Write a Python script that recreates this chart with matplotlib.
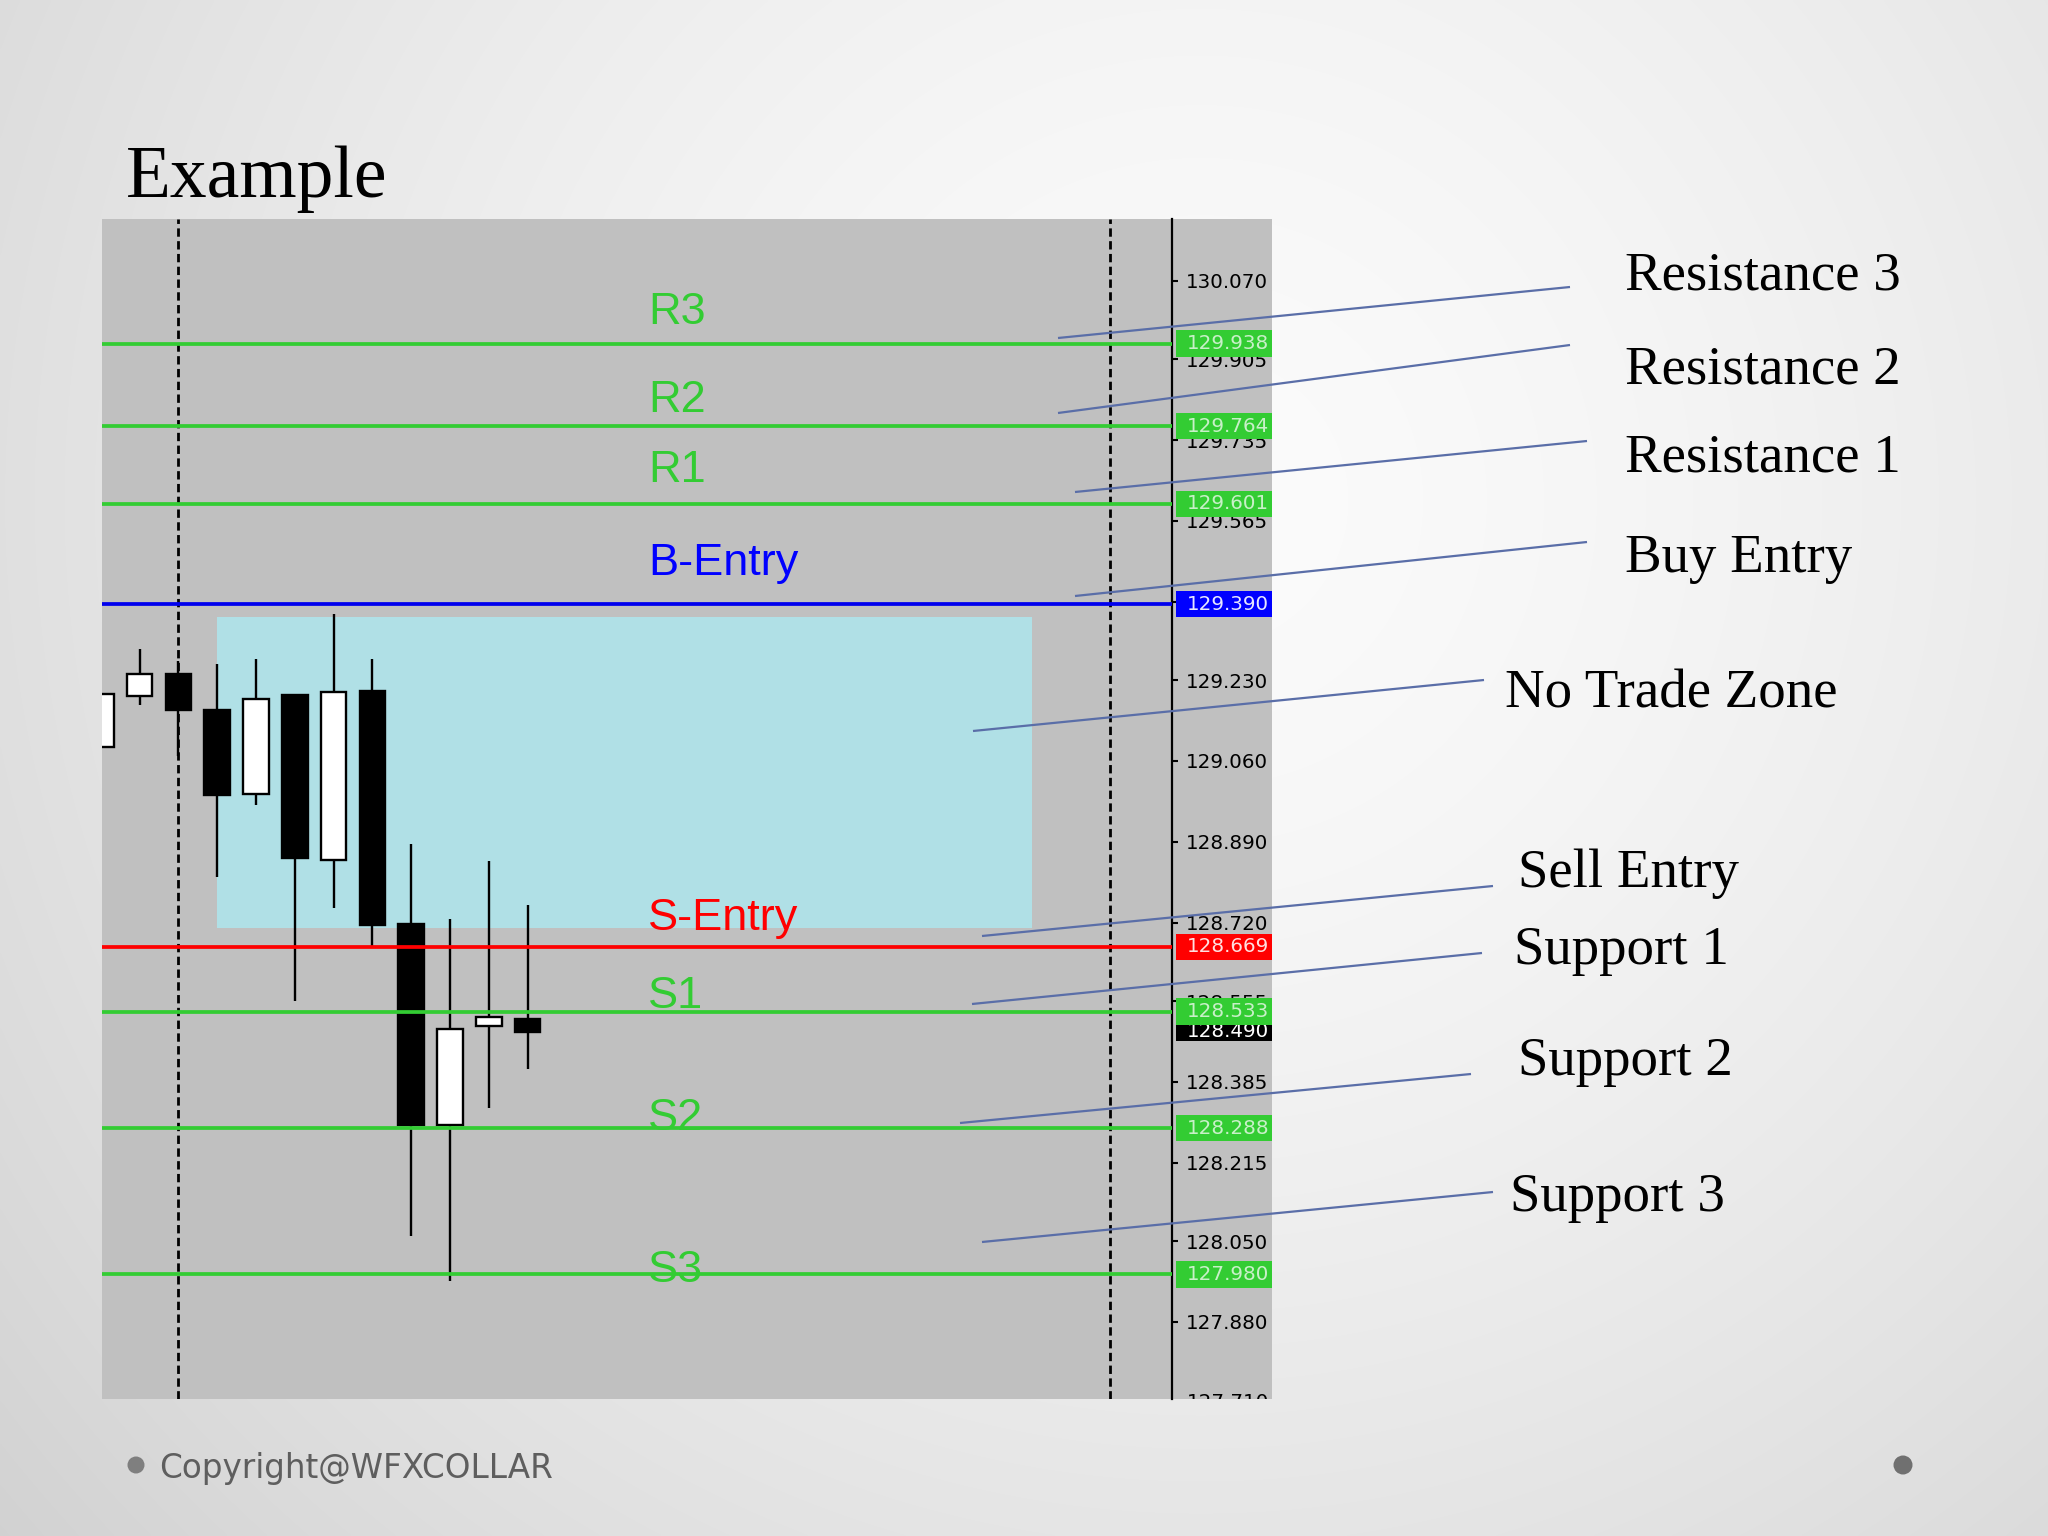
import numpy as np
import matplotlib
matplotlib.use("Agg")
import matplotlib.pyplot as plt
from matplotlib.patches import Rectangle, Circle
from matplotlib.ticker import FixedLocator, FixedFormatter

# ---------------- data ----------------
opens  = [129.089, 129.196, 129.242, 129.167, 128.990, 129.198, 128.852, 129.207, 128.717, 128.295, 128.502, 128.518]
highs  = [129.201, 129.295, 129.271, 129.264, 129.275, 129.201, 129.370, 129.274, 128.885, 128.728, 128.849, 128.758]
lows   = [129.089, 129.178, 129.070, 128.815, 128.968, 128.556, 128.751, 128.671, 128.061, 127.967, 128.331, 128.413]
closes = [129.201, 129.242, 129.168, 128.989, 129.191, 128.856, 129.206, 128.714, 128.295, 128.496, 128.522, 128.490]

level_names  = ["R3", "R2", "R1", "B-Entry", "S-Entry", "S1", "S2", "S3"]
level_prices = [129.938, 129.764, 129.601, 129.390, 128.669, 128.533, 128.288, 127.980]
level_labels = ["129.938", "129.764", "129.601", "129.390", "128.669", "128.533", "128.288", "127.980"]
name_prices  = [129.980, 129.794, 129.647, 129.451, 128.704, 128.540, 128.283, 127.964]
level_kinds  = ["g", "g", "g", "b", "r", "g", "g", "g"]

current_price = 128.490
current_label = "128.490"

tick_values = [130.070, 129.905, 129.735, 129.565, 129.395, 129.230, 129.060,
               128.890, 128.720, 128.555, 128.385, 128.215, 128.050, 127.880]
tick_labels = ["130.070", "129.905", "129.735", "129.565", "129.395", "129.230", "129.060",
               "128.890", "128.720", "128.555", "128.385", "128.215", "128.050", "127.880"]
cut_tick_value = 127.710
cut_tick_label = "127.710"

zone_x = [3, 24]
zone_prices = [128.709, 129.362]
period_separators = [2, 26]

annot_texts = ["Resistance 3", "Resistance 2", "Resistance 1", "Buy Entry", "No Trade Zone",
               "Sell Entry", "Support 1", "Support 2", "Support 3"]

# ---------------- styles ----------------
W, H = 2048, 1536
line_col = {"g": "#33cc33", "b": "#0000ee", "r": "#ff0000"}
name_col = {"g": "#33cc33", "b": "#0000ff", "r": "#ff0000"}
box_col = {"g": "#33cc33", "b": "#0000ff", "r": "#ff0000"}
box_txt = {"g": "#c8f0c8", "b": "#e6e6ff", "r": "#ffe0e0"}
chart_gray = "#c0c0c0"

fig = plt.figure(figsize=(W / 100, H / 100), dpi=100)

# background gradient (slide)
bg = fig.add_axes([0, 0, 1, 1], zorder=0)
bg.axis("off")
yy, xx = np.mgrid[0:H:2, 0:W:2].astype(float)
cx, cy = 1200.0, 500.0
d = np.sqrt(((xx - cx) / 1400.0) ** 2 + ((yy - cy) / 1400.0) ** 2)
v = np.clip(0.985 - 0.135 * d ** 1.5, 0, 1)
img = np.dstack([v, v, v])
bg.imshow(img, extent=[0, W, H, 0], aspect="auto", interpolation="bilinear")
bg.set_xlim(0, W)
bg.set_ylim(H, 0)
bg.add_patch(Rectangle((102, 219), 1170, 1180, facecolor=chart_gray, edgecolor="none"))

# main chart axes
L, R, T, B = 102, 1172, 219, 1399
ax = fig.add_axes([L / W, 1 - B / H, (R - L) / W, (B - T) / H], zorder=2)
ax.set_facecolor(chart_gray)
ax.set_xlim(0.031, 27.608)
ax.set_ylim(127.718, 130.200)
for s in ["left", "top", "bottom"]:
    ax.spines[s].set_visible(False)
ax.spines["right"].set_linewidth(1.6)
ax.spines["right"].set_color("black")
ax.set_xticks([])
ax.yaxis.tick_right()
ax.yaxis.set_major_locator(FixedLocator(tick_values))
ax.yaxis.set_major_formatter(FixedFormatter(tick_labels))
ax.tick_params(axis="y", direction="out", length=4, width=1.5, pad=6, labelsize=14.3, colors="black")
for t in ax.get_yticklabels():
    t.set_fontfamily("DejaVu Sans")

# no trade zone
ax.add_patch(Rectangle((zone_x[0], zone_prices[0]), zone_x[1] - zone_x[0], zone_prices[1] - zone_prices[0],
                       facecolor="#b0e0e6", edgecolor="none", zorder=1))

# period separators
for xv in period_separators:
    ax.axvline(xv, color="black", lw=2.0, ls=(0, (3, 1.6)), zorder=2.5)

# candles
xs = np.arange(len(opens))
o = np.array(opens); c = np.array(closes); h = np.array(highs); l = np.array(lows)
ax.vlines(xs, l, h, color="black", lw=1.7, zorder=3)
bull = c >= o
ax.bar(xs, np.abs(c - o), bottom=np.minimum(o, c), width=0.66,
       color=np.where(bull, "white", "black"), edgecolor="black", linewidth=1.7, zorder=3.2)

# levels
for nm, pr, npr, k in zip(level_names, level_prices, name_prices, level_kinds):
    ax.axhline(pr, color=line_col[k], lw=2.7, zorder=4)
    ax.text(14.1, npr, nm, color=name_col[k], fontsize=32.5, family="Liberation Sans",
            ha="left", va="baseline", zorder=5)

# price label panel
ax2 = fig.add_axes([R / W, 1 - B / H, 100 / W, (B - T) / H], sharey=ax, zorder=3)
ax2.axis("off")
ax2.patch.set_visible(False)
ax2.set_xlim(0, 1)
ax2.barh([current_price], [0.96], left=0.04, height=0.038, color="black", zorder=1)
ax2.text(0.145, current_price, current_label, color="white", fontsize=14.3, family="DejaVu Sans",
         va="center", ha="left", zorder=2)
for pr, lab, k in zip(level_prices, level_labels, level_kinds):
    ax2.barh([pr], [0.96], left=0.04, height=0.055, color=box_col[k], zorder=3)
    ax2.text(0.145, pr, lab, color=box_txt[k], fontsize=14.3, family="DejaVu Sans",
             va="center", ha="left", zorder=4)
ax2.plot([0, 0.06], [cut_tick_value, cut_tick_value], color="black", lw=1.5, clip_on=True)
ax2.text(0.145, cut_tick_value, cut_tick_label, color="black", fontsize=14.3, family="DejaVu Sans",
         va="center", ha="left", clip_on=True)

# overlay: slide texts and leader lines (pixel coordinates)
ov = fig.add_axes([0, 0, 1, 1], zorder=10)
ov.axis("off")
ov.patch.set_visible(False)
ov.set_xlim(0, W)
ov.set_ylim(H, 0)

ov.text(126, 197, "Example", fontsize=53, family="Liberation Serif", color="black",
        ha="left", va="baseline")

annot_pos = [(1625, 290), (1625, 383), (1625, 471), (1625, 572), (1505, 708),
             (1518, 887), (1514, 964), (1518, 1075), (1510, 1211)]
leaders = [((1058, 338), (1570, 287)), ((1058, 413), (1570, 345)), ((1075, 492), (1587, 441)),
           ((1075, 596), (1587, 542)), ((973, 731), (1484, 680)), ((982, 936), (1493, 886)),
           ((972, 1004), (1482, 953)), ((960, 1123), (1471, 1074)), ((982, 1242), (1493, 1192))]
for txt, (tx, ty), (p1, p2) in zip(annot_texts, annot_pos, leaders):
    ov.text(tx, ty, txt, fontsize=39.5, family="Liberation Serif", color="black",
            ha="left", va="baseline")
    ov.plot([p1[0], p2[0]], [p1[1], p2[1]], color="#5a6ea8", lw=1.6, solid_capstyle="butt")

ov.add_patch(Circle((136, 1465), 8.5, facecolor="#7f7f7f", edgecolor="none"))
ov.text(159, 1478, "Copyright@WFXCOLLAR", fontsize=23.5, family="DejaVu Sans", color="#5e5e5e",
        ha="left", va="baseline")
ov.add_patch(Circle((1903, 1465), 9.5, facecolor="#707070", edgecolor="none"))

fig.savefig("out.png", dpi=100)
